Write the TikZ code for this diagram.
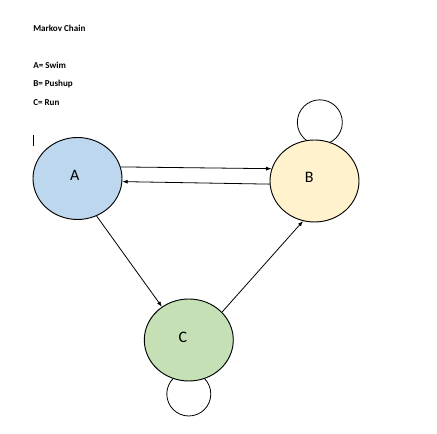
\documentclass[tikz,border=0pt]{standalone}
\usepackage{fontspec}
\setmainfont{Carlito}
\usetikzlibrary{shapes.geometric, arrows.meta, backgrounds}

\begin{document}
\begin{tikzpicture}[x=0.75pt, y=0.75pt,
		statenode/.style={draw=black, line width=0.7pt, ellipse, minimum width=66.75pt, minimum height=61.5pt, inner sep=0pt},
		statelabel/.style={font=\fontsize{12}{14}\selectfont},
		keytext/.style={anchor=west, inner sep=0pt, font=\fontsize{6.8}{8}\selectfont\bfseries},
		arc/.style={line width=0.6pt, -{Latex[length=4pt, width=3pt]}}]
			\useasboundingbox (0, 0) rectangle (437, 434);

			\node[keytext] at (33, 406) (title) {Markov Chain};
			\node[keytext] at (33, 369) (keyA) {A= Swim};
			\node[keytext] at (33, 350) (keyB) {B= Pushup};
			\node[keytext] at (33, 331) (keyC) {C= Run};
			\draw[line width=0.6pt] (33.5, 288) -- (33.5, 299);

			\node[statenode, fill={rgb,255:red,189;green,215;blue,238}, label={[statelabel, xshift=-2pt, yshift=2pt]center:A}] at (77.5, 255.5) (A) {};
			\node[statenode, fill={rgb,255:red,255;green,242;blue,204}, label={[statelabel, xshift=-4pt, yshift=3pt]center:B}] at (314.5, 253) (B) {};
			\node[statenode, fill={rgb,255:red,197;green,224;blue,180}, label={[statelabel, xshift=-4.5pt, yshift=2pt]center:C}] at (188.8, 94) (C) {};

			\begin{scope}[on background layer]
				\draw[line width=0.6pt] ([xshift=4pt, yshift=44pt]B.center) circle (22.5);
				\draw[line width=0.6pt] ([yshift=-40.5pt]C.center) circle (22);
			\end{scope}

			\path
			(A.15) edge[arc] (B.164)
			(B.184) edge[arc] (A.-4)
			(A.-63) edge[arc] (C.129)
			(C.40) edge[arc] (B.254);
		\end{tikzpicture}
\end{document}
